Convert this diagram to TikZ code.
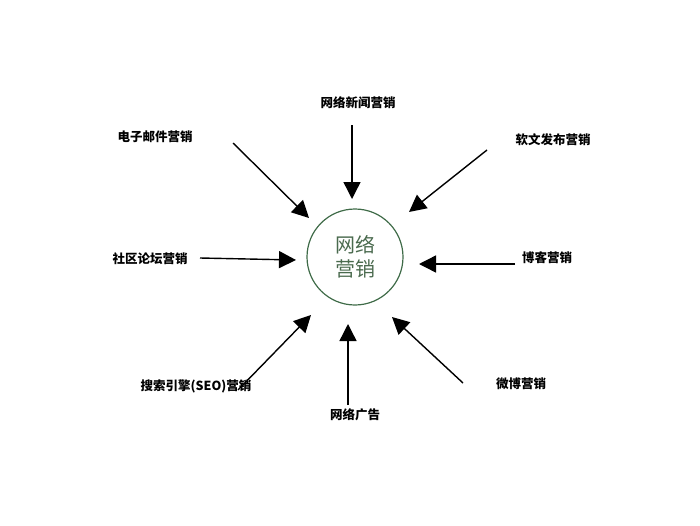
\documentclass[tikz,border=0pt]{standalone}
\usepackage{fontspec}
\newfontfamily\cjk{Noto Sans CJK SC}
\usetikzlibrary{arrows.meta}
\definecolor{cg}{HTML}{3F6B48}
\definecolor{tg}{HTML}{4A6A4E}
\begin{document}
\begin{tikzpicture}[x=1pt,y=-1pt,
  lab/.style={font=\cjk\bfseries\fontsize{12.5}{14}\selectfont,inner sep=1pt},
  arr/.style={line width=1.4pt,-{Triangle[length=17pt,width=17pt]}}]
\useasboundingbox (0,0) rectangle (700,525);
\node[draw=cg,line width=1.2pt,circle,minimum size=96pt,align=center,
  text=tg,font=\cjk\fontsize{20}{24}\selectfont] (c) at (355,257) {网络\\营销};
\node[lab] (l1) at (358,103) {网络新闻营销};
\node[lab] (l2) at (155,137) {电子邮件营销};
\node[lab] (l3) at (553,140) {软文发布营销};
\node[lab] (l4) at (150,259) {社区论坛营销};
\node[lab] (l5) at (547,258) {博客营销};
\node[lab] (l6) at (196,386) {搜索引擎(SEO)营销};
\node[lab] (l7) at (355,415) {网络广告};
\node[lab] (l8) at (521,384) {微博营销};
\coordinate (s1) at (352,125); \coordinate (e1) at (352,199);
\coordinate (s2) at (233,143); \coordinate (e2) at (309,218);
\coordinate (s3) at (487,150); \coordinate (e3) at (409,212);
\coordinate (s4) at (200,258); \coordinate (e4) at (296,260);
\coordinate (s5) at (515,264); \coordinate (e5) at (419,264);
\coordinate (s6) at (238,390); \coordinate (e6) at (311,315);
\coordinate (s7) at (348,405); \coordinate (e7) at (348,324);
\coordinate (s8) at (463,383); \coordinate (e8) at (392,317);
\foreach \i in {1,...,8} \draw[arr] (s\i) -- (e\i);
\end{tikzpicture}
\end{document}
